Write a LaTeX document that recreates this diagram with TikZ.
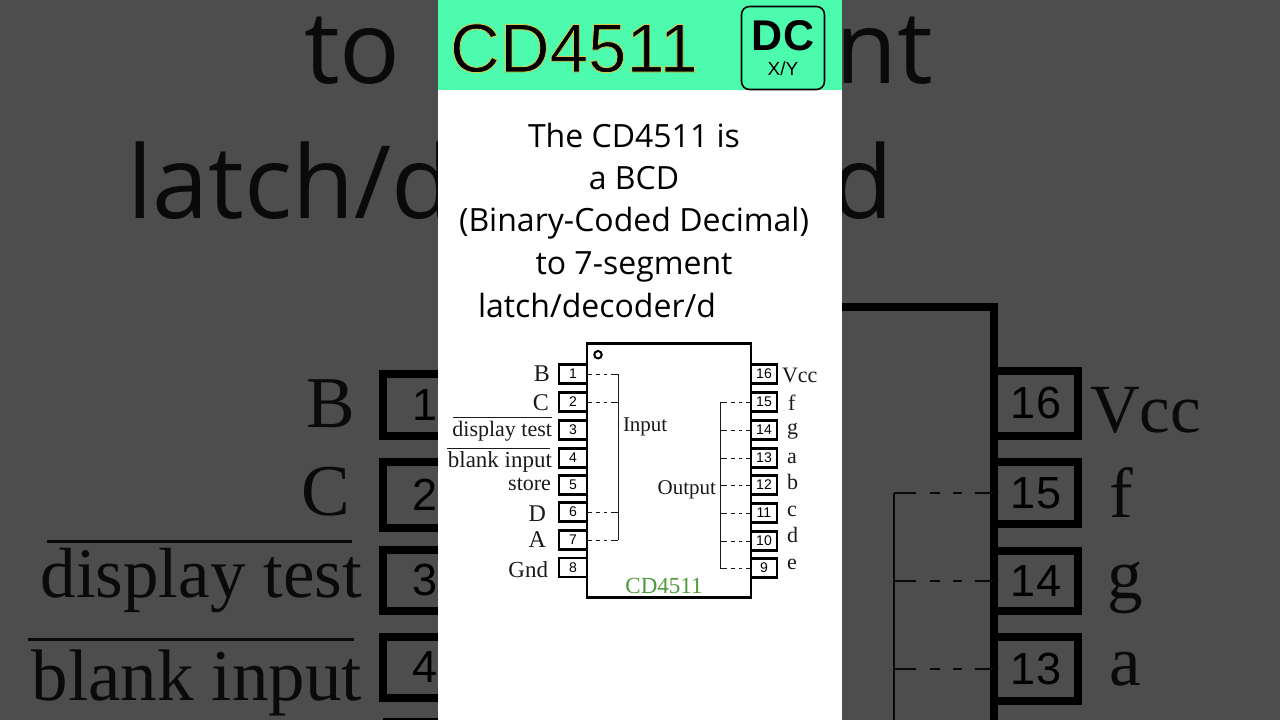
\documentclass[tikz,border=0pt]{standalone}
\usepackage{fontspec}
\setmainfont{Liberation Serif}
\newfontfamily\sansf{Liberation Sans}
\newfontfamily\bodyf{Open Sans}
\newcommand{\fsz}[1]{\fontsize{#1}{#1}\selectfont}
\definecolor{bggray}{HTML}{4D4D4D}
\definecolor{band}{HTML}{4DFBAE}
\definecolor{ink}{HTML}{1A1A1A}
\definecolor{chipgreen}{HTML}{4F9A3A}
\definecolor{bgink}{HTML}{0A0A0A}
\tikzset{
  lab/.style={inner sep=0pt,outer sep=0pt,text=ink,font=\fsz{22}},
  biglab/.style={inner sep=0pt,outer sep=0pt,text=bgink,font=\fsz{71}},
  pinbox/.style={draw=black,fill=white,line width=2.4pt,inner sep=0pt,outer sep=0pt,minimum height=19pt,text=black,font=\sansf\fsz{14}},
  bigpin/.style={draw=black,line width=8pt,inner sep=0pt,outer sep=0pt,text=black,font=\sansf\fsz{45}},
  dashline/.style={draw=ink,line width=0.8pt,dash pattern=on 7pt off 4pt on 3.5pt off 4pt on 3.5pt off 4pt on 5pt},
  busline/.style={draw=ink,line width=0.9pt},
  bigdash/.style={draw=bgink,line width=2.4pt,dash pattern=on 22pt off 14pt on 10pt off 13pt on 9pt off 13pt on 20pt},
  bigbus/.style={draw=bgink,line width=2.6pt},
  body/.style={inner sep=0pt,outer sep=0pt,text=black,font=\bodyf\fsz{32}},
  bigbody/.style={inner sep=0pt,outer sep=0pt,text=bgink,font=\bodyf\fsz{101}}
}
\begin{document}
\begin{tikzpicture}[x=1pt,y=-1pt]
\useasboundingbox (0,0) rectangle (1280,720);
\fill[bggray] (0,0) rectangle (1280,720);
\begin{scope}
\clip (0,0) rectangle (1280,720);
% enlarged background: only what shows beside the panel
\node[bigbody,anchor=base west] (bgt1) at (304,83) {to};
\node[bigbody,anchor=base east] (bgt1b) at (933,83) {nt};
\node[bigbody,anchor=base west] (bgt2) at (127,218) {latch/d};
\node[bigbody,anchor=base east] (bgt2b) at (893,218) {d};
\draw[black,line width=8pt] (700,307) -- (994,307) -- (994,730);
% left pins
\node[bigpin,minimum width=90pt,minimum height=62pt] (b1) at (428,405) {\hspace*{-5pt}1};
\node[bigpin,minimum width=90pt,minimum height=66pt] (b2) at (428,495) {\hspace*{-5pt}2};
\node[bigpin,minimum width=90pt,minimum height=61pt] (b3) at (428,580.5) {\hspace*{-5pt}3};
\node[bigpin,minimum width=90pt,minimum height=61pt] (b4) at (428,667.5) {\hspace*{-5pt}4};
\draw[black,line width=8pt] (383,722) -- (500,722);
\node[biglab,anchor=base east,font=\fsz{73}] (bB) at (355,427) {B};
\node[biglab,anchor=base east,font=\fsz{73}] (bC) at (350,515) {C};
\node[biglab,anchor=base east] (bdt) at (362,597) {display test};
\node[biglab,anchor=base east,font=\fsz{73}] (bbi) at (362,700) {blank input};
\draw[bgink,line width=3pt] (47,541) -- (352,541);
\draw[bgink,line width=3pt] (28,639) -- (354,639);
% right pins
\node[bigpin,minimum width=84pt,minimum height=65pt] (b16) at (1036,403.5) {16};
\node[bigpin,minimum width=84pt,minimum height=62pt] (b15) at (1036,493) {15};
\node[bigpin,minimum width=84pt,minimum height=60pt] (b14) at (1036,581) {14};
\node[bigpin,minimum width=84pt,minimum height=64pt] (b13) at (1036,669) {13};
\node[biglab,anchor=base west,font=\fsz{69}] (bV) at (1090,432) {Vcc};
\node[biglab,anchor=base west] (bf) at (1109,517) {f};
\node[biglab,anchor=base west] (bg) at (1107,598) {g};
\node[biglab,anchor=base west] (ba) at (1109,685) {a};
\coordinate (bbus) at (894,730);
\draw[bigbus] (b15.west -| bbus) -- (bbus);
\draw[bigdash] (b15.west -| bbus) -- (b15.west);
\draw[bigdash] (b14.west -| bbus) -- (b14.west);
\draw[bigdash] (b13.west -| bbus) -- (b13.west);
\end{scope}
% panel
\fill[white] (438,0) rectangle (842,720);
\fill[band] (438,0) rectangle (842,90);
\node[inner sep=0pt,outer sep=0pt,anchor=base west,text=black,font=\sansf\fsz{69}] (title) at (450,72)
  {\special{pdf:code 0.85 0.80 0.30 RG 0.8 w 2 Tr}CD4511\special{pdf:code 0 Tr}};
\node[draw=black,line width=1.6pt,rounded corners=8pt,inner sep=0pt,outer sep=0pt,minimum width=83pt,minimum height=83pt] (dcbox) at (783,48) {};
\node[inner sep=0pt,anchor=base,text=black,font=\sansf\bfseries\fsz{43}] (dc) at (783,50) {DC};
\node[inner sep=0pt,anchor=base,text=black,font=\sansf\fsz{19}] (xy) at (783,75) {X/Y};
\node[body,anchor=base] (l1) at (634,147) {The CD4511 is};
\node[body,anchor=base] (l2) at (634,189) {a BCD};
\node[body,anchor=base] (l3) at (634,231) {(Binary-Coded Decimal)};
\node[body,anchor=base] (l4) at (634,274) {to 7-segment};
\node[body,anchor=base west] (l5) at (478,317) {latch/decoder/d};
% chip
\node[draw=black,line width=2.2pt,inner sep=0pt,outer sep=0pt,minimum width=164pt,minimum height=254pt] (chip) at (669,470.5) {};
\node[circle,draw=black,line width=2pt,inner sep=0pt,minimum size=7.5pt] (dot) at (598,354.7) {};
\foreach \n/\y in {1/374,2/402,3/430,4/458,5/485,6/512,7/540,8/567.5}
  \node[pinbox,minimum width=28pt] (p\n) at (573,\y) {\n};
\foreach \n/\y in {16/374,15/402,14/430,13/458,12/485,11/513,10/541,9/568}
  \node[pinbox,minimum width=26pt] (p\n) at (764,\y) {\n};
\coordinate (busL) at (618,470);
\coordinate (busR) at (720,470);
\draw[busline] (p1.east -| busL) -- (p7.east -| busL);
\foreach \n in {1,2,6,7}
  \draw[dashline] (p\n.east -| busL) -- (p\n.east);
\draw[busline] (p15.west -| busR) -- (p9.west -| busR);
\foreach \n in {15,14,13,12,11,10,9}
  \draw[dashline] (p\n.west -| busR) -- (p\n.west);
\node[lab,anchor=base east,font=\fsz{24}] (nB) at (550,381.5) {B};
\node[lab,anchor=base east,font=\fsz{24}] (nC) at (549,410) {C};
\node[lab,anchor=base east] (ndt) at (552,436) {display test};
\node[lab,anchor=base east,font=\fsz{23}] (nbi) at (552,467) {blank input};
\node[lab,anchor=base east] (nst) at (551,490) {store};
\node[lab,anchor=base east,font=\fsz{24}] (nD) at (546,521) {D};
\node[lab,anchor=base east,font=\fsz{24}] (nA) at (546,547) {A};
\node[lab,anchor=base east,font=\fsz{23}] (nG) at (548,577) {Gnd};
\draw[ink,line width=0.8pt] (453,417) -- (552,417);
\draw[ink,line width=0.8pt] (447,448) -- (550,448);
\node[lab,anchor=base west] (nV) at (782,382.5) {Vcc};
\node[lab,anchor=base west] (nf) at (788,410) {f};
\node[lab,anchor=base west] (ng) at (787,434.5) {g};
\node[lab,anchor=base west] (na) at (787,463) {a};
\node[lab,anchor=base west] (nb) at (787,489) {b};
\node[lab,anchor=base west] (nc) at (787,516.5) {c};
\node[lab,anchor=base west] (nd) at (787,542.5) {d};
\node[lab,anchor=base west] (ne) at (787,569) {e};
\node[lab,anchor=base west,font=\fsz{21}] (nI) at (623,431.5) {Input};
\node[lab,anchor=base east,font=\fsz{21}] (nO) at (716,494) {Output};
\node[lab,anchor=base,text=chipgreen,font=\fsz{23}] (nCD) at (664,593) {CD4511};
\end{tikzpicture}
\end{document}
